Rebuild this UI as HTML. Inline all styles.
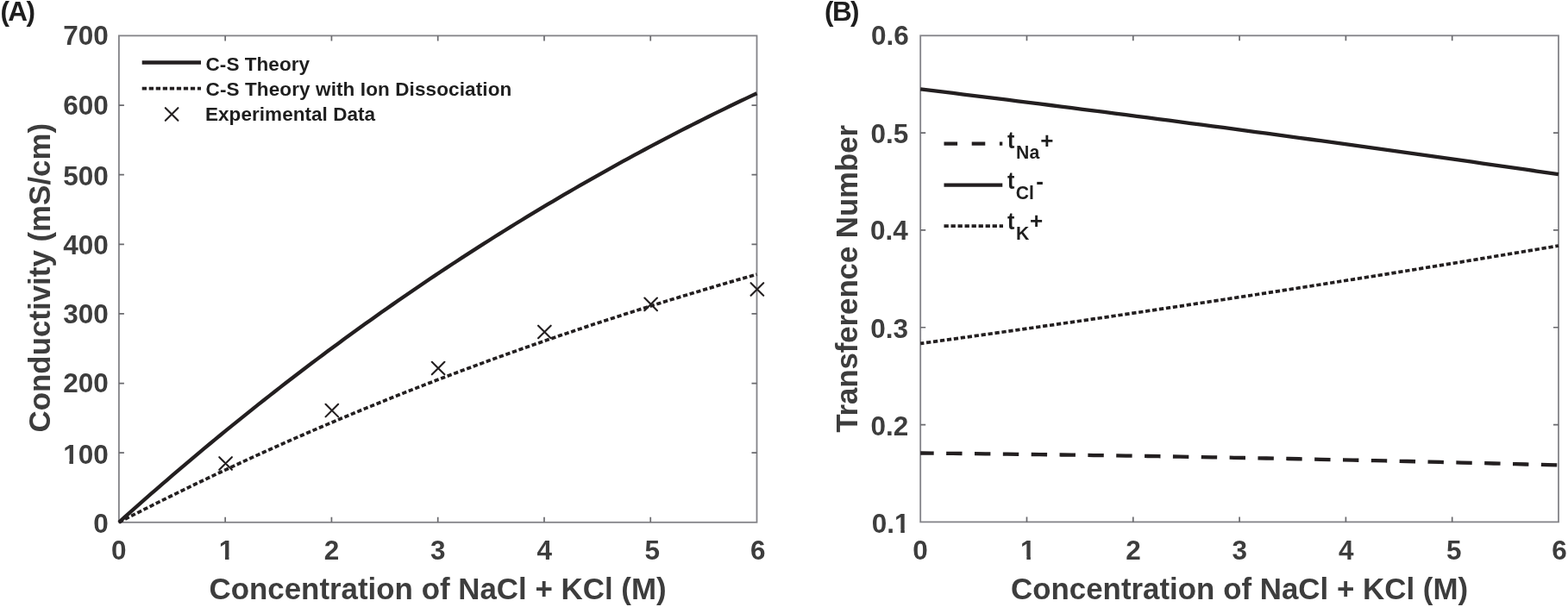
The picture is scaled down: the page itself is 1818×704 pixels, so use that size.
<!DOCTYPE html><html><head><meta charset="utf-8"><title>Conductivity and transference number</title>
<style>html,body{margin:0;padding:0;background:#fff;overflow:hidden;}svg{display:block;}text{font-family:"Liberation Sans",Arial,Helvetica,sans-serif;font-weight:bold;}</style></head><body>
<svg width="1818" height="704" viewBox="0 0 1818 704">
<rect width="1818" height="704" fill="#fff"/>
<text transform="translate(0.45,24.1) scale(1,1.02)" font-size="31.5" letter-spacing="-1.6" fill="#1e1e1e">(A)</text>
<text transform="translate(956.1,24.1) scale(1,1.02)" font-size="31.5" letter-spacing="-1.6" fill="#1e1e1e">(B)</text>
<rect x="137.90" y="41.40" width="739.60" height="564.40" fill="none" stroke="#838388" stroke-width="1.80"/>
<path d="M261.17,605.80v-6.00M261.17,41.40v6.00M384.43,605.80v-6.00M384.43,41.40v6.00M507.70,605.80v-6.00M507.70,41.40v6.00M630.97,605.80v-6.00M630.97,41.40v6.00M754.23,605.80v-6.00M754.23,41.40v6.00M137.90,525.17h6.00M877.50,525.17h-6.00M137.90,444.54h6.00M877.50,444.54h-6.00M137.90,363.91h6.00M877.50,363.91h-6.00M137.90,283.29h6.00M877.50,283.29h-6.00M137.90,202.66h6.00M877.50,202.66h-6.00M137.90,122.03h6.00M877.50,122.03h-6.00" fill="none" stroke="#6a6a6e" stroke-width="1.7"/>
<g font-size="31.5" fill="#3d3d3d">
<text x="128.96" y="649.2">0</text>
<text x="253.74" y="649.2">1</text>
<text x="375.73" y="649.2">2</text>
<text x="498.95" y="649.2">3</text>
<text x="622.59" y="649.2">4</text>
<text x="747.39" y="649.2">5</text>
<text x="870.03" y="649.2">6</text>
</g>
<g font-size="31.5" fill="#3d3d3d">
<text x="108.17" y="617.94">0</text>
<text x="73.14" y="537.51">100</text>
<text x="73.14" y="455.48">200</text>
<text x="73.14" y="375.30">300</text>
<text x="73.14" y="294.57">400</text>
<text x="73.14" y="214.69">500</text>
<text x="73.14" y="132.86">600</text>
<text x="73.14" y="52.24">700</text>
</g>
<text x="242.46" y="694.6" font-size="34.90" fill="#3d3d3d">Concentration of NaCl + KCl (M)</text>
<text transform="translate(57.6,501.5) rotate(-90)" font-size="34.90" fill="#3d3d3d">Conductivity (mS/cm)</text>
<g fill="none" stroke="#231f20">
<path d="M137.90,605.80 L144.12,600.22 L150.33,594.68 L156.55,589.15 L162.76,583.66 L168.98,578.18 L175.19,572.74 L181.41,567.32 L187.62,561.92 L193.84,556.56 L200.05,551.21 L206.27,545.89 L212.48,540.60 L218.70,535.34 L224.91,530.09 L231.13,524.88 L237.34,519.69 L243.56,514.52 L249.77,509.38 L255.99,504.26 L262.20,499.17 L268.42,494.10 L274.63,489.06 L280.85,484.05 L287.06,479.05 L293.28,474.09 L299.49,469.14 L305.71,464.23 L311.92,459.33 L318.14,454.46 L324.35,449.62 L330.57,444.79 L336.78,440.00 L343.00,435.22 L349.21,430.48 L355.43,425.75 L361.64,421.05 L367.86,416.37 L374.07,411.72 L380.29,407.09 L386.51,402.48 L392.72,397.90 L398.94,393.34 L405.15,388.81 L411.37,384.30 L417.58,379.81 L423.80,375.34 L430.01,370.90 L436.23,366.48 L442.44,362.09 L448.66,357.72 L454.87,353.37 L461.09,349.04 L467.30,344.74 L473.52,340.46 L479.73,336.20 L485.95,331.96 L492.16,327.75 L498.38,323.56 L504.59,319.39 L510.81,315.25 L517.02,311.12 L523.24,307.02 L529.45,302.95 L535.67,298.89 L541.88,294.86 L548.10,290.84 L554.31,286.85 L560.53,282.89 L566.74,278.94 L572.96,275.02 L579.17,271.11 L585.39,267.23 L591.60,263.38 L597.82,259.54 L604.03,255.72 L610.25,251.93 L616.46,248.16 L622.68,244.40 L628.89,240.67 L635.11,236.96 L641.33,233.28 L647.54,229.61 L653.76,225.96 L659.97,222.34 L666.19,218.74 L672.40,215.15 L678.62,211.59 L684.83,208.05 L691.05,204.53 L697.26,201.03 L703.48,197.55 L709.69,194.09 L715.91,190.65 L722.12,187.23 L728.34,183.83 L734.55,180.46 L740.77,177.10 L746.98,173.76 L753.20,170.44 L759.41,167.15 L765.63,163.87 L771.84,160.61 L778.06,157.37 L784.27,154.15 L790.49,150.95 L796.70,147.78 L802.92,144.62 L809.13,141.48 L815.35,138.36 L821.56,135.25 L827.78,132.17 L833.99,129.11 L840.21,126.07 L846.42,123.04 L852.64,120.04 L858.85,117.05 L865.07,114.08 L871.28,111.14 L877.50,108.21" stroke-width="4.30"/>
<path d="M137.90,605.80 L144.12,602.59 L150.33,599.40 L156.55,596.22 L162.76,593.06 L168.98,589.91 L175.19,586.78 L181.41,583.66 L187.62,580.56 L193.84,577.48 L200.05,574.41 L206.27,571.36 L212.48,568.32 L218.70,565.29 L224.91,562.29 L231.13,559.29 L237.34,556.32 L243.56,553.35 L249.77,550.40 L255.99,547.47 L262.20,544.55 L268.42,541.65 L274.63,538.76 L280.85,535.89 L287.06,533.03 L293.28,530.18 L299.49,527.35 L305.71,524.53 L311.92,521.73 L318.14,518.94 L324.35,516.17 L330.57,513.41 L336.78,510.66 L343.00,507.93 L349.21,505.22 L355.43,502.51 L361.64,499.82 L367.86,497.14 L374.07,494.48 L380.29,491.83 L386.51,489.20 L392.72,486.57 L398.94,483.96 L405.15,481.37 L411.37,478.79 L417.58,476.22 L423.80,473.66 L430.01,471.12 L436.23,468.59 L442.44,466.07 L448.66,463.57 L454.87,461.07 L461.09,458.59 L467.30,456.13 L473.52,453.68 L479.73,451.23 L485.95,448.81 L492.16,446.39 L498.38,443.99 L504.59,441.59 L510.81,439.22 L517.02,436.85 L523.24,434.49 L529.45,432.15 L535.67,429.82 L541.88,427.50 L548.10,425.19 L554.31,422.90 L560.53,420.62 L566.74,418.34 L572.96,416.08 L579.17,413.83 L585.39,411.60 L591.60,409.37 L597.82,407.16 L604.03,404.95 L610.25,402.76 L616.46,400.58 L622.68,398.41 L628.89,396.25 L635.11,394.10 L641.33,391.97 L647.54,389.84 L653.76,387.72 L659.97,385.62 L666.19,383.53 L672.40,381.44 L678.62,379.37 L684.83,377.31 L691.05,375.26 L697.26,373.21 L703.48,371.18 L709.69,369.16 L715.91,367.15 L722.12,365.15 L728.34,363.16 L734.55,361.18 L740.77,359.20 L746.98,357.24 L753.20,355.29 L759.41,353.35 L765.63,351.42 L771.84,349.49 L778.06,347.58 L784.27,345.68 L790.49,343.78 L796.70,341.90 L802.92,340.02 L809.13,338.15 L815.35,336.29 L821.56,334.45 L827.78,332.61 L833.99,330.78 L840.21,328.95 L846.42,327.14 L852.64,325.34 L858.85,323.54 L865.07,321.75 L871.28,319.97 L877.50,318.20" stroke-width="3.70" stroke-dasharray="5.3 2.72"/>
</g>
<path d="M254.27,530.21l14.60,14.60M254.27,544.81l14.60,-14.60M377.53,468.77l14.60,14.60M377.53,483.37l14.60,-14.60M500.80,419.75l14.60,14.60M500.80,434.35l14.60,-14.60M624.07,377.66l14.60,14.60M624.07,392.26l14.60,-14.60M747.33,345.57l14.60,14.60M747.33,360.17l14.60,-14.60M870.60,328.23l14.60,14.60M870.60,342.83l14.60,-14.60" fill="none" stroke="#231f20" stroke-width="2.1" stroke-linecap="round"/>
<g fill="none" stroke="#231f20">
<path d="M164.7,72.5H233.0" stroke-width="4.30"/>
<path d="M164.7,102.6H233.0" stroke-width="3.70" stroke-dasharray="5.3 2.72"/>
</g>
<path d="M191.80,125.20l14.60,14.60M191.80,139.80l14.60,-14.60" fill="none" stroke="#231f20" stroke-width="2.1" stroke-linecap="round"/>
<g font-size="22.5" fill="#1e1e1e" letter-spacing="0.05">
<text x="238.55" y="81.9">C-S Theory</text>
<text x="238.55" y="110.8" letter-spacing="0.11">C-S Theory with Ion Dissociation</text>
<text x="238.0" y="140.4">Experimental Data</text>
</g>
<rect x="1067.20" y="41.30" width="739.80" height="564.10" fill="none" stroke="#838388" stroke-width="1.80"/>
<path d="M1190.50,605.40v-6.00M1190.50,41.30v6.00M1313.80,605.40v-6.00M1313.80,41.30v6.00M1437.10,605.40v-6.00M1437.10,41.30v6.00M1560.40,605.40v-6.00M1560.40,41.30v6.00M1683.70,605.40v-6.00M1683.70,41.30v6.00M1067.20,492.58h6.00M1807.00,492.58h-6.00M1067.20,379.76h6.00M1807.00,379.76h-6.00M1067.20,266.94h6.00M1807.00,266.94h-6.00M1067.20,154.12h6.00M1807.00,154.12h-6.00" fill="none" stroke="#6a6a6e" stroke-width="1.7"/>
<g font-size="31.5" fill="#3d3d3d">
<text x="1058.16" y="649.2">0</text>
<text x="1183.09" y="649.2">1</text>
<text x="1305.13" y="649.2">2</text>
<text x="1428.45" y="649.2">3</text>
<text x="1551.99" y="649.2">4</text>
<text x="1676.89" y="649.2">5</text>
<text x="1799.33" y="649.2">6</text>
</g>
<g font-size="31.5" fill="#3d3d3d">
<text x="1010.75" y="618.09">0.1</text>
<text x="1009.47" y="504.72">0.2</text>
<text x="1009.35" y="392.15">0.3</text>
<text x="1008.98" y="278.48">0.4</text>
<text x="1009.39" y="165.56">0.5</text>
<text x="1009.95" y="52.49">0.6</text>
</g>
<text x="1171.96" y="694.6" font-size="34.90" fill="#3d3d3d">Concentration of NaCl + KCl (M)</text>
<text transform="translate(994.3,501.8) rotate(-90)" font-size="34.90" fill="#3d3d3d" letter-spacing="-0.1">Transference Number</text>
<g fill="none" stroke="#231f20">
<path d="M1067.20,103.40 L1079.74,104.92 L1092.28,106.45 L1104.82,107.98 L1117.36,109.52 L1129.89,111.06 L1142.43,112.61 L1154.97,114.16 L1167.51,115.72 L1180.05,117.28 L1192.59,118.85 L1205.13,120.42 L1217.67,122.00 L1230.21,123.59 L1242.75,125.18 L1255.28,126.77 L1267.82,128.37 L1280.36,129.98 L1292.90,131.59 L1305.44,133.21 L1317.98,134.83 L1330.52,136.46 L1343.06,138.09 L1355.60,139.73 L1368.14,141.37 L1380.67,143.02 L1393.21,144.67 L1405.75,146.33 L1418.29,147.99 L1430.83,149.66 L1443.37,151.34 L1455.91,153.02 L1468.45,154.70 L1480.99,156.39 L1493.53,158.09 L1506.06,159.79 L1518.60,161.50 L1531.14,163.21 L1543.68,164.92 L1556.22,166.65 L1568.76,168.37 L1581.30,170.11 L1593.84,171.85 L1606.38,173.59 L1618.92,175.34 L1631.45,177.09 L1643.99,178.85 L1656.53,180.61 L1669.07,182.38 L1681.61,184.16 L1694.15,185.94 L1706.69,187.73 L1719.23,189.52 L1731.77,191.31 L1744.31,193.11 L1756.84,194.92 L1769.38,196.73 L1781.92,198.55 L1794.46,200.37 L1807.00,202.20" stroke-width="4.30"/>
<path d="M1067.20,398.40 L1079.74,396.67 L1092.28,394.94 L1104.82,393.19 L1117.36,391.44 L1129.89,389.69 L1142.43,387.93 L1154.97,386.16 L1167.51,384.38 L1180.05,382.60 L1192.59,380.81 L1205.13,379.02 L1217.67,377.22 L1230.21,375.41 L1242.75,373.59 L1255.28,371.77 L1267.82,369.94 L1280.36,368.10 L1292.90,366.26 L1305.44,364.41 L1317.98,362.56 L1330.52,360.70 L1343.06,358.83 L1355.60,356.95 L1368.14,355.07 L1380.67,353.18 L1393.21,351.29 L1405.75,349.38 L1418.29,347.48 L1430.83,345.56 L1443.37,343.64 L1455.91,341.71 L1468.45,339.77 L1480.99,337.83 L1493.53,335.88 L1506.06,333.93 L1518.60,331.97 L1531.14,330.00 L1543.68,328.02 L1556.22,326.04 L1568.76,324.05 L1581.30,322.06 L1593.84,320.05 L1606.38,318.05 L1618.92,316.03 L1631.45,314.01 L1643.99,311.98 L1656.53,309.94 L1669.07,307.90 L1681.61,305.85 L1694.15,303.80 L1706.69,301.74 L1719.23,299.67 L1731.77,297.59 L1744.31,295.51 L1756.84,293.42 L1769.38,291.33 L1781.92,289.22 L1794.46,287.12 L1807.00,285.00" stroke-width="3.70" stroke-dasharray="5.3 2.72" stroke-dashoffset="1.1"/>
<path d="M1067.20,525.50 L1079.74,525.63 L1092.28,525.76 L1104.82,525.90 L1117.36,526.04 L1129.89,526.19 L1142.43,526.34 L1154.97,526.49 L1167.51,526.65 L1180.05,526.81 L1192.59,526.97 L1205.13,527.14 L1217.67,527.31 L1230.21,527.49 L1242.75,527.66 L1255.28,527.85 L1267.82,528.03 L1280.36,528.22 L1292.90,528.41 L1305.44,528.61 L1317.98,528.81 L1330.52,529.02 L1343.06,529.22 L1355.60,529.44 L1368.14,529.65 L1380.67,529.87 L1393.21,530.09 L1405.75,530.32 L1418.29,530.55 L1430.83,530.78 L1443.37,531.02 L1455.91,531.26 L1468.45,531.50 L1480.99,531.75 L1493.53,532.01 L1506.06,532.26 L1518.60,532.52 L1531.14,532.78 L1543.68,533.05 L1556.22,533.32 L1568.76,533.59 L1581.30,533.87 L1593.84,534.15 L1606.38,534.44 L1618.92,534.73 L1631.45,535.02 L1643.99,535.32 L1656.53,535.62 L1669.07,535.92 L1681.61,536.23 L1694.15,536.54 L1706.69,536.85 L1719.23,537.17 L1731.77,537.49 L1744.31,537.82 L1756.84,538.15 L1769.38,538.48 L1781.92,538.82 L1794.46,539.16 L1807.00,539.50" stroke-width="4.30" stroke-dasharray="18.4 14.45" stroke-dashoffset="2.9"/>
<path d="M1094.5,166.6H1162.3" stroke-width="4.30" stroke-dasharray="15.6 16.6"/>
<path d="M1094.5,214.6H1162.3" stroke-width="4.30"/>
<path d="M1094.5,262.2H1163" stroke-width="3.70" stroke-dasharray="5.3 2.72"/>
</g>
<g fill="#1e1e1e" font-size="26">
<text transform="translate(1167.9,172.40) scale(0.97,1.09)">t</text>
<text x="1178.10" y="183.90" font-size="21.2">Na</text>
<text x="1206.20" y="171.50">+</text>
<text transform="translate(1167.9,219.10) scale(0.97,1.09)">t</text>
<text x="1177.80" y="230.90" font-size="21.2">Cl</text>
<text x="1201.20" y="219.00">-</text>
<text transform="translate(1167.9,266.30) scale(0.97,1.09)">t</text>
<text x="1177.90" y="278.20" font-size="21.2">K</text>
<text x="1194.00" y="265.40">+</text>
</g>
<g fill="#fff"><rect x="254.37" y="644.99" width="6.63" height="5.21"/><rect x="265.52" y="644.99" width="6.60" height="5.21"/><rect x="73.77" y="533.29" width="6.63" height="5.21"/><rect x="84.91" y="533.29" width="6.60" height="5.21"/><rect x="1183.72" y="644.99" width="6.63" height="5.21"/><rect x="1194.87" y="644.99" width="6.60" height="5.21"/><rect x="1037.65" y="613.87" width="6.63" height="5.21"/><rect x="1048.80" y="613.87" width="6.60" height="5.21"/></g>
</svg></body></html>
